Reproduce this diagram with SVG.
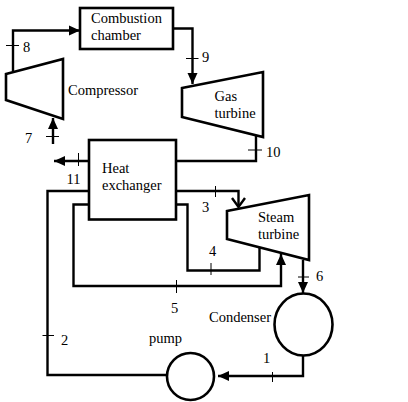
<svg xmlns="http://www.w3.org/2000/svg" width="408" height="402" viewBox="0 0 408 402">
<style>
.s{fill:none;stroke:#000;stroke-width:2.4}
.b{fill:#fff;stroke:#000;stroke-width:2.6}
.t{fill:none;stroke:#000;stroke-width:1}
text{font-family:"Liberation Serif","Times New Roman",serif;font-size:14.5px;fill:#000}
</style>
<defs>
<marker id="a" markerUnits="userSpaceOnUse" markerWidth="12" markerHeight="12" refX="11" refY="6" orient="auto"><path d="M0 1L11 6L0 11Z" fill="#000"/></marker>
<marker id="o" markerUnits="userSpaceOnUse" markerWidth="14" markerHeight="18" refX="11" refY="9" orient="auto"><path d="M2 2.500L11 9L2 15.500" fill="none" stroke="#000" stroke-width="2.4"/></marker>
</defs>
<g id="connectors">
<path class="s" d="M13 71V30.500H80" marker-end="url(#a)"/>
<path class="s" d="M173 28.500H192.500V84" marker-end="url(#a)"/>
<path class="s" d="M53 144V118" marker-end="url(#a)"/>
<path class="s" d="M89 161H54" marker-end="url(#a)"/>
<path class="s" d="M256 136V161H176"/>
<path class="s" d="M89 191H47.500V375H167"/>
<path class="s" d="M89 204.500H73.500V286H281V254" marker-end="url(#a)"/>
<path class="s" d="M176 204.500H187.500V270.500H259.500V248"/>
<path class="s" d="M176 191H238.500V207" marker-end="url(#o)"/>
<path class="s" d="M303 260V293" marker-end="url(#a)"/>
<path class="s" d="M303 356V376H218" marker-end="url(#a)"/>
<path class="t" d="M6 45.500H19M186 58.500H198.500M46 136.500H59M78.500 153V166M248 150H262M215.500 186V197M42.500 335.500H54M176.500 280V293M211 263V275M298 277H309M272.500 372V382"/>
</g>
<g id="combustion"><rect class="b" x="80" y="8" width="93" height="41"/><text x="91" y="23">Combustion</text><text x="91" y="40">chamber</text></g>
<g id="compressor"><path class="b" d="M6 74L63 59V119L6 100Z"/><text x="68" y="94.500">Compressor</text></g>
<g id="gas-turbine"><path class="b" d="M182 88L263 72V137L182 117Z"/><text x="214.500" y="101">Gas</text><text x="214.500" y="118">turbine</text></g>
<g id="heat-exchanger"><rect class="b" x="89" y="140" width="87" height="79.500"/><text x="102" y="173">Heat</text><text x="102" y="190">exchanger</text></g>
<g id="steam-turbine"><path class="b" d="M227 211L309 195V260L227 239Z"/><text x="258" y="222">Steam</text><text x="258" y="238.500">turbine</text></g>
<g id="condenser"><ellipse class="b" cx="303.500" cy="324.500" rx="29" ry="31"/><text x="209" y="322">Condenser</text></g>
<g id="pump"><circle class="b" cx="190.500" cy="376.500" r="23.500"/><text x="149" y="343">pump</text></g>
<g id="labels">
<text x="23" y="52">8</text><text x="202" y="62">9</text><text x="25" y="143">7</text><text x="66.500" y="184">11</text><text x="266" y="157">10</text><text x="202" y="212">3</text><text x="209" y="256">4</text><text x="171" y="313">5</text><text x="316" y="281">6</text><text x="263" y="363">1</text><text x="61" y="345">2</text>
</g>
</svg>
